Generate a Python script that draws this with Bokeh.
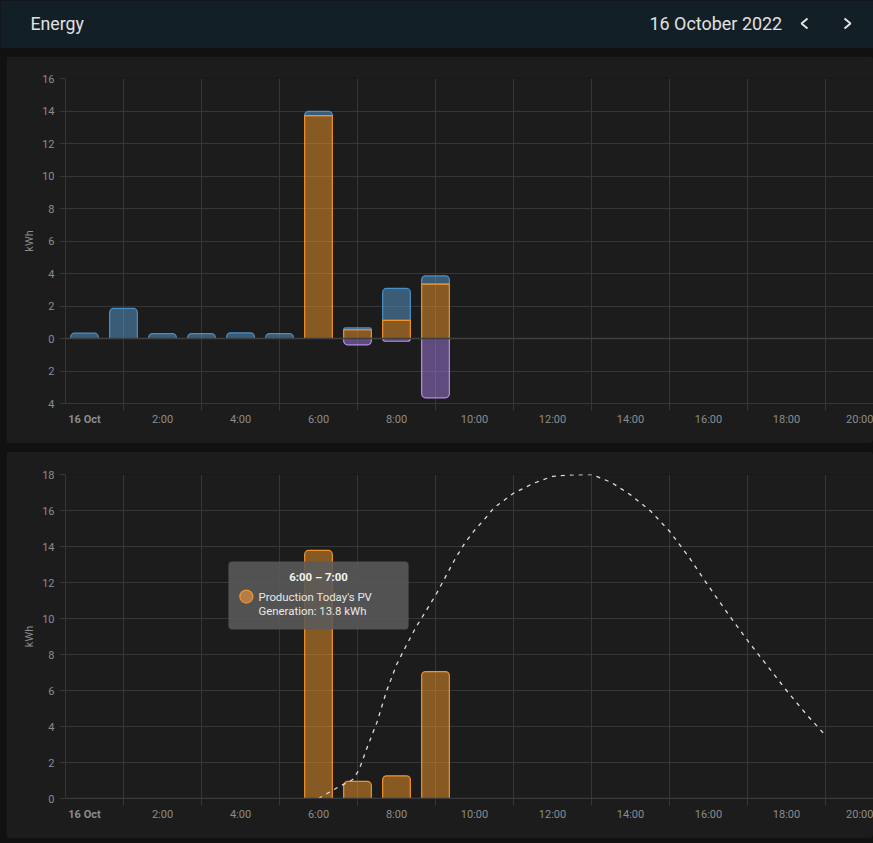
from bokeh.embed import file_html
from bokeh.layouts import column
from bokeh.models import BoxAnnotation, ColumnDataSource, FixedTicker, Label, LinearAxis, Range1d, Span
from bokeh.plotting import figure
from bokeh.resources import INLINE

TITLE = "Energy"
DATE = "16 October 2022"
UNIT = "kWh"
FIRST_LABEL = "16 Oct"
TOOLTIP_TITLE = "6:00 – 7:00"
TOOLTIP_LINE_1 = "Production Today's PV"
TOOLTIP_LINE_2 = "Generation: 13.8 kWh"

hours = [0, 1, 2, 3, 4, 5, 6, 7, 8, 9]
solar_used = [0, 0, 0, 0, 0, 0, 13.72, 0.54, 1.11, 3.35]
grid_import = [0.33, 1.85, 0.3, 0.3, 0.35, 0.3, 0.26, 0.11, 1.97, 0.51]
grid_return = [0, 0, 0, 0, 0, 0, 0, -0.39, -0.17, -3.65]

production_hours = [6, 7, 8, 9]
production = [13.78, 0.95, 1.26, 7.05]

forecast_hours = [6, 6.5, 6.87, 7, 7.08, 7.25, 7.5, 7.75, 8, 8.25, 8.5, 9, 9.5, 9.75, 10, 10.25, 10.5, 11, 11.5, 12, 12.5, 13,
                  13.5, 14, 14.5, 15, 15.5, 16, 16.5, 17, 17.5, 18, 18.5, 19]
forecast = [0, 0.63, 1.04, 1.45, 1.83, 2.85, 4.24, 6.0, 7.43, 8.5, 9.52, 11.28, 13.3, 14.19, 14.9, 15.5, 16.15, 16.96, 17.5, 17.9, 17.98, 18,
            17.57, 16.87, 16.0, 14.85, 13.4, 11.8, 10.26, 8.78, 7.39, 6.0, 4.7, 3.5]

label_hours = [2, 4, 6, 8, 10, 12, 14, 16, 18, 20]
label_texts = ["2:00", "4:00", "6:00", "8:00", "10:00", "12:00", "14:00", "16:00", "18:00", "20:00"]
grid_hours = [1, 3, 5, 7, 9, 11, 13, 15, 17, 19]
top_ticks = [-4, -2, 0, 2, 4, 6, 8, 10, 12, 14, 16]
top_tick_labels = ["4", "2", "0", "2", "4", "6", "8", "10", "12", "14", "16"]
bottom_ticks = [0, 2, 4, 6, 8, 10, 12, 14, 16, 18]

PAGE = "#111111"
CARD = "#1c1c1c"
HEADER = "#131f26"
GRID = "#363636"
TICK = "#8c8c8c"
FONT = "Roboto"
BLUE, BLUE_LINE = "#5a9bd0", "#4a90c8"
ORANGE, ORANGE_LINE = "#f2982a", "#f2922a"
PURPLE, PURPLE_LINE = "#a27ade", "#b58fe8"
BAR_WIDTH = 0.71
RADIUS = 4


def chart(height, top, bottom, y_start, y_end, ticks, margin):
    p = figure(width=867, height=height, output_backend="svg", toolbar_location=None,
               x_range=Range1d(-0.487, 20.23), y_range=Range1d(y_start, y_end),
               min_border_left=59, min_border_right=0, min_border_top=top, min_border_bottom=bottom,
               border_fill_color=CARD, background_fill_color=CARD, outline_line_color=None,
               margin=margin, styles={"border-radius": "4px", "overflow": "hidden"})
    x = p.xaxis[0]
    x.ticker = FixedTicker(ticks=label_hours, minor_ticks=grid_hours)
    x.major_label_overrides = dict(zip(label_hours, label_texts))
    x.major_tick_line_color = None
    x.minor_tick_line_color = GRID
    x.minor_tick_in = 0
    x.minor_tick_out = 7
    x.axis_line_color = GRID
    x.major_label_standoff = 2
    y = p.yaxis[0]
    y.ticker = FixedTicker(ticks=ticks)
    y.minor_tick_line_color = None
    y.major_tick_line_color = GRID
    y.major_tick_in = 0
    y.major_tick_out = 6
    y.axis_line_color = GRID
    y.major_label_standoff = 5
    y.axis_label = UNIT
    y.axis_label_standoff = 3
    y.axis_label_text_font = FONT
    y.axis_label_text_font_size = "11px"
    y.axis_label_text_font_style = "normal"
    y.axis_label_text_color = TICK
    for a in (x, y):
        a.major_label_text_font = FONT
        a.major_label_text_font_size = "11px"
        a.major_label_text_color = TICK
    p.xgrid.ticker = FixedTicker(ticks=grid_hours)
    p.ygrid.ticker = FixedTicker(ticks=ticks)
    p.xgrid.grid_line_color = GRID
    p.ygrid.grid_line_color = GRID
    first = LinearAxis(ticker=FixedTicker(ticks=[0]), major_label_overrides={0: FIRST_LABEL},
                       axis_line_color=None, major_tick_line_color=None,
                       minor_tick_line_color=None, major_tick_out=0, major_tick_in=0,
                       major_label_standoff=-16, major_label_text_font=FONT,
                       major_label_text_font_size="11px", major_label_text_font_style="bold",
                       major_label_text_color=TICK)
    p.add_layout(first, "below")
    return p


def bars(p, source, bottom, top, fill, line, radius):
    p.vbar(x="h", width=BAR_WIDTH, bottom=bottom, top=top, source=source,
           fill_color=fill, fill_alpha=0.5, line_color=line, line_width=1.2,
           border_radius=radius)


# Header
head = figure(width=873, height=48, output_backend="svg", toolbar_location=None,
              x_range=Range1d(0, 873), y_range=Range1d(0, 48), x_axis_location=None, y_axis_location=None,
              min_border=0, border_fill_color=HEADER, background_fill_color=HEADER, outline_line_color=None,
              margin=0)
head.grid.visible = False
head.add_layout(Label(x=30, y=25, text=TITLE, text_font=FONT, text_font_size="17.7px",
                      text_color="#e1e1e1", text_baseline="middle"))
head.add_layout(Label(x=649, y=25, text=DATE, text_font=FONT, text_font_size="17.95px",
                      text_color="#e1e1e1", text_baseline="middle"))
head.line([807, 801, 807], [30, 25, 20], line_color="#e1e1e1", line_width=2)
head.line([844, 850, 844], [30, 25, 20], line_color="#e1e1e1", line_width=2)

# Top chart
top_chart = chart(387, 22, 40, -4, 16, top_ticks, (8, 0, 0, 6))
top_chart.yaxis[0].major_label_overrides = dict(zip(top_ticks, top_tick_labels))
src = ColumnDataSource(dict(h=hours, solar=solar_used,
                            total=[a + b for a, b in zip(solar_used, grid_import)]))
bars(top_chart, src, "solar", "total", BLUE, BLUE_LINE,
     {"top_left": RADIUS, "top_right": RADIUS, "bottom_left": 0, "bottom_right": 0})
orange_view = ColumnDataSource(dict(h=hours[6:], solar=solar_used[6:], zero=[0] * 4))
bars(top_chart, orange_view, "zero", "solar", ORANGE, ORANGE_LINE, 0)
purple_view = ColumnDataSource(dict(h=hours[7:], ret=grid_return[7:], zero=[0] * 3))
bars(top_chart, purple_view, "ret", "zero", PURPLE, PURPLE_LINE,
     {"top_left": 0, "top_right": 0, "bottom_left": RADIUS, "bottom_right": RADIUS})
top_chart.add_layout(Span(location=0, dimension="width", line_color="#3f3f3f", line_width=1.6, level="overlay"))

# Bottom chart
bottom_chart = chart(387, 23, 40, 0, 18, bottom_ticks, (8, 0, 5, 6))
prod = ColumnDataSource(dict(h=production_hours, v=production, zero=[0] * 4))
bars(bottom_chart, prod, "zero", "v", ORANGE, ORANGE_LINE,
     {"top_left": RADIUS, "top_right": RADIUS, "bottom_left": 0, "bottom_right": 0})
bottom_chart.add_layout(Span(location=0, dimension="width", line_color="#3f3f3f", line_width=1.6, level="overlay"))
bottom_chart.line(forecast_hours, forecast, line_color="#dedede", line_width=1.3, line_dash=[4, 5])

# Tooltip
bottom_chart.add_layout(BoxAnnotation(left=3.69, right=8.31, bottom=9.39, top=13.17,
                                      fill_color="#5a5a5a", fill_alpha=0.88, line_color=None,
                                      border_radius=4, level="annotation"))
bottom_chart.scatter([4.15], [11.22], size=13, fill_color="#b37d45", line_color=ORANGE_LINE,
                     line_width=1.3, level="overlay")
for text, hx, vy, align, style, color in [
    (TOOLTIP_TITLE, 6, 12.28, "center", "bold", "#f4f4f4"),
    (TOOLTIP_LINE_1, 4.46, 11.22, "left", "normal", "#e8e8e8"),
    (TOOLTIP_LINE_2, 4.46, 10.44, "left", "normal", "#e8e8e8"),
]:
    bottom_chart.add_layout(Label(x=hx, y=vy, text=text, text_font=FONT, text_font_size="11.4px",
                                  text_font_style=style, text_color=color, text_align=align,
                                  text_baseline="middle", level="overlay"))

p = column(column(head), column(top_chart, bottom_chart, spacing=0), spacing=0,
           styles={"background-color": PAGE})

open("out.html", "w").write(file_html(p, INLINE))
